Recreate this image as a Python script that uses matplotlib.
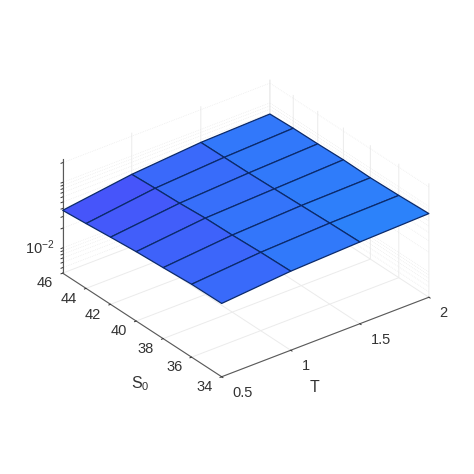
import numpy as np
import matplotlib
matplotlib.use('Agg')
import matplotlib.pyplot as plt
from matplotlib.colors import LinearSegmentedColormap

plt.rcParams['font.family'] = ['Liberation Sans', 'DejaVu Sans']
plt.rcParams['mathtext.fontset'] = 'custom'
plt.rcParams['mathtext.rm'] = 'Liberation Sans'
plt.rcParams['mathtext.default'] = 'regular'

T_values = [0.5, 1.0, 1.5, 2.0]
S_values = [46, 44, 42, 40, 38, 36, 34]
z_T05 = [0.03745, 0.0402, 0.0436, 0.04716, 0.0499, 0.05338, 0.05414]
z_T10 = [0.05226, 0.05472, 0.05667, 0.0604, 0.06174, 0.0646, 0.0663]
z_T15 = [0.0633, 0.0639, 0.0646, 0.0665, 0.06865, 0.0711, 0.0729]
z_T20 = [0.06767, 0.0701, 0.0709, 0.0729, 0.0719, 0.0742, 0.07797]
z_ticks = [0.005, 0.006, 0.007, 0.008, 0.009, 0.01, 0.02, 0.03, 0.04, 0.05,
           0.06, 0.07, 0.08, 0.09, 0.1, 0.2]
z_lim = [0.00412, 0.226]
T_ticks = [0.5, 1, 1.5, 2]
T_labels = ['0.5', '1', '1.5', '2']
S_ticks = [34, 36, 38, 40, 42, 44, 46]

Z = np.array([z_T05, z_T10, z_T15, z_T20]).T
TT, SS = np.meshgrid(T_values, S_values)

fig = plt.figure(figsize=(4.74, 4.74), dpi=100)
ax = fig.add_axes([0.005, 0.005, 1.0, 1.0], projection='3d', proj_type='ortho',
                  computed_zorder=False)
ax.view_init(elev=30, azim=-127.5)
ax.set_box_aspect((262, 262, 132), zoom=0.803)
ax.patch.set_alpha(0)

cmap = LinearSegmentedColormap.from_list(
    'parula_low', [(0.2810, 0.3228, 0.98), (0.1600, 0.5289, 0.98)])
norm = plt.Normalize(0.035, 0.075)
faces = cmap(norm(Z))
ax.plot_surface(TT, np.log10(SS), np.log10(Z), facecolors=faces, rstride=1, cstride=1,
                shade=False, edgecolor='#0b2a6b', linewidth=0.9, antialiased=True,
                zorder=5)

ax.set_xlim(0.5, 2)
ax.set_ylim(np.log10(34), np.log10(46))
ax.set_zlim(np.log10(z_lim[0]), np.log10(z_lim[1]))
ax.set_xticks(T_ticks)
ax.set_xticklabels(T_labels, ha='left', va='center_baseline')
ax.set_yticks(np.log10(S_ticks))
ax.set_yticklabels([str(s) for s in S_ticks], ha='right', va='center_baseline')
ax.set_zticks(np.log10(z_ticks))
ax.set_zticklabels(['$10^{-2}$' if z == 0.01 else '' for z in z_ticks], va='center_baseline')

dark = (0.35, 0.35, 0.35)
for axis in (ax.xaxis, ax.yaxis, ax.zaxis):
    axis.set_pane_color((1, 1, 1, 0))
    axis.pane.set_edgecolor((0.92, 0.92, 0.92))
    axis.line.set_color(dark)
    axis.line.set_linewidth(0.8)
    info = axis._axinfo
    info['grid'].update(color=(0.92, 0.92, 0.92), linewidth=0.7, linestyle='-')
    info['tick'].update(inward_factor=0.1, outward_factor=0.0, linewidth={True: 0.7, False: 0.7})
    info['tick']['color'] = dark
ax.zaxis._axinfo['grid'].update(color=(0.9, 0.9, 0.9), linewidth=0.5, linestyle=':')
ax.tick_params(axis='x', labelsize=10.5, colors=(0.2, 0.2, 0.2), pad=4)
ax.tick_params(axis='y', labelsize=10.5, colors=(0.2, 0.2, 0.2), pad=0)
ax.tick_params(axis='z', labelsize=10.5, colors=(0.2, 0.2, 0.2), pad=3)

ax.text2D(315 / 474, 1 - 388 / 474, 'T', transform=fig.transFigure, fontsize=11.5,
          color=(0.2, 0.2, 0.2), ha='center', va='center')
ax.text2D(140 / 474, 1 - 384 / 474, 'S$_0$', transform=fig.transFigure, fontsize=11.5,
          color=(0.2, 0.2, 0.2), ha='center', va='center')

fig.savefig('out.png', dpi=100)
